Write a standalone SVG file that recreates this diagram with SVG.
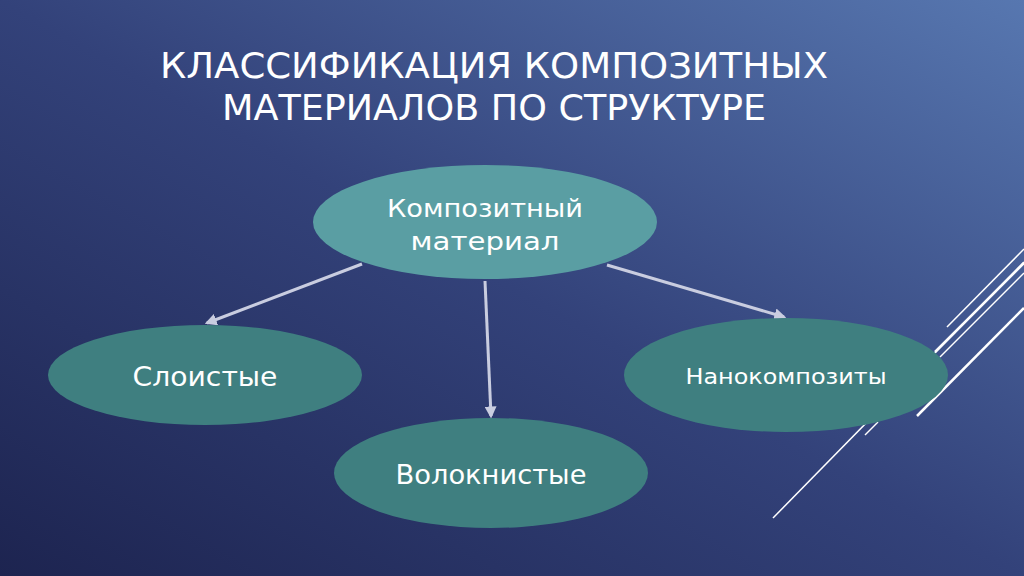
<svg xmlns="http://www.w3.org/2000/svg" width="1024" height="576" viewBox="0 0 1024 576">
<defs>
<linearGradient id="bg" x1="1" y1="0" x2="0" y2="1">
<stop offset="0" stop-color="#5777b0"/>
<stop offset="0.5" stop-color="#33427a"/>
<stop offset="1" stop-color="#1d2450"/>
</linearGradient>
<marker id="ah" viewBox="0 0 10 10" refX="8" refY="5" markerWidth="4" markerHeight="4" orient="auto"><path d="M0,0L10,5L0,10z" fill="#c9cde0"/></marker>
<style>
.t{font-family:"DejaVu Sans","Liberation Sans",sans-serif;fill:#fff;text-anchor:middle}
.e{fill:#3f7f80}
.c{stroke:#c9cde0;stroke-width:3;fill:none;marker-end:url(#ah)}
.d{stroke:#fff;fill:none}
</style>
</defs>
<rect width="1024" height="576" fill="url(#bg)"/>
<g id="deco">
<line class="d" x1="947" y1="327" x2="1024" y2="249" stroke-width="1.5"/>
<line class="d" x1="935" y1="352" x2="1024" y2="263" stroke-width="2.5"/>
<line class="d" x1="940" y1="357" x2="1024" y2="273" stroke-width="1.5"/>
<line class="d" x1="917" y1="416" x2="1024" y2="308" stroke-width="2.5"/>
<line class="d" x1="865" y1="435" x2="878" y2="422" stroke-width="1.5"/>
<line class="d" x1="773" y1="518" x2="1024" y2="262" stroke-width="1.5"/>
</g>
<text class="t" x="494" y="78" font-size="36" textLength="668" lengthAdjust="spacingAndGlyphs">КЛАССИФИКАЦИЯ КОМПОЗИТНЫХ</text>
<text class="t" x="494" y="120" font-size="36" textLength="544" lengthAdjust="spacingAndGlyphs">МАТЕРИАЛОВ ПО СТРУКТУРЕ</text>
<g id="connectors">
<line class="c" x1="362" y1="264" x2="207" y2="323"/>
<line class="c" x1="485" y1="281" x2="491" y2="416"/>
<line class="c" x1="607" y1="265" x2="784" y2="317"/>
</g>
<g id="n0"><ellipse cx="485" cy="222" rx="172" ry="57" fill="#5a9ea3"/>
<text class="t" x="485" y="217" font-size="24" textLength="196" lengthAdjust="spacingAndGlyphs">Композитный</text><text class="t" x="485" y="250" font-size="24" textLength="149" lengthAdjust="spacingAndGlyphs">материал</text></g>
<g id="n1"><ellipse class="e" cx="205" cy="375" rx="157" ry="50"/><text class="t" x="205" y="386" font-size="27" textLength="145" lengthAdjust="spacingAndGlyphs">Слоистые</text></g>
<g id="n2"><ellipse class="e" cx="491" cy="473" rx="157" ry="55"/><text class="t" x="491" y="484" font-size="27" textLength="191" lengthAdjust="spacingAndGlyphs">Волокнистые</text></g>
<g id="n3"><ellipse class="e" cx="786" cy="375" rx="162" ry="57"/><text class="t" x="786" y="384" font-size="22" textLength="201" lengthAdjust="spacingAndGlyphs">Нанокомпозиты</text></g>
</svg>
